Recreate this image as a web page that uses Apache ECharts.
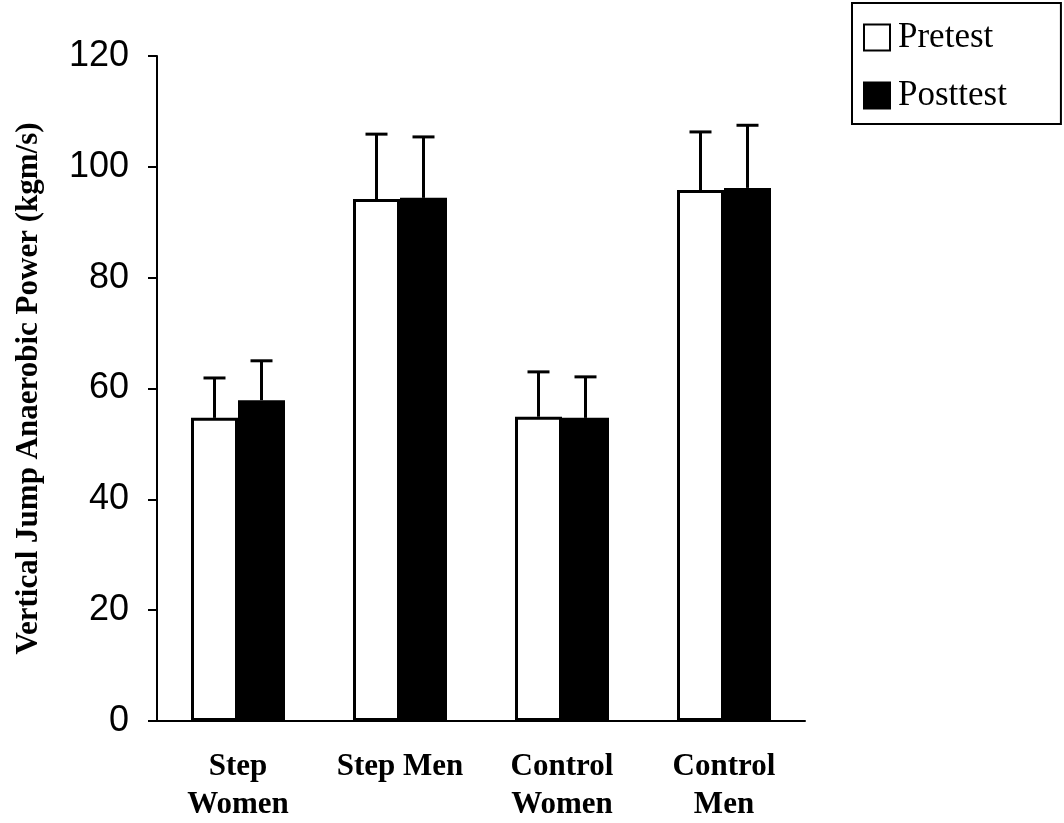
<!DOCTYPE html>
<html>
<head>
<meta charset="utf-8">
<script src="https://cdn.jsdelivr.net/npm/echarts@6/dist/echarts.min.js"></script>
<style>
  html, body { margin: 0; padding: 0; background: #fff; }
  #chart { width: 1064px; height: 823px; }
</style>
</head>
<body>
<div id="chart"></div>
<script>
// groups on the x axis
const groups = ['Step\nWomen', 'Step Men', 'Control\nWomen', 'Control\nMen'];
// means, kgm/s
const pretestMean = [54.7, 94.2, 54.9, 95.8];
const posttestMean = [57.9, 94.4, 54.7, 96.2];
// SD (upper error bar only)
const pretestSD = [7.2, 11.7, 8.1, 10.5];
const posttestSD = [7.1, 11.0, 7.4, 11.3];
const yTicks = { min: 0, max: 120, step: 20 };

const BAR_W = 47;

function errorBars(means, sds, side) {
  return {
    type: 'custom',
    silent: true,
    z: 5,
    data: means.map((m, i) => [i, m, m + sds[i]]),
    renderItem: function (params, api) {
      const low = api.coord([api.value(0), api.value(1)]);
      const high = api.coord([api.value(0), api.value(2)]);
      const x = low[0] + side * BAR_W / 2;
      const style = { stroke: '#000', lineWidth: 3 };
      return {
        type: 'group',
        children: [
          { type: 'line', shape: { x1: x, y1: low[1], x2: x, y2: high[1] }, style: style },
          { type: 'line', shape: { x1: x - 11, y1: high[1], x2: x + 11, y2: high[1] }, style: style }
        ]
      };
    }
  };
}

const myChart = echarts.init(document.getElementById('chart'));
const option = {
  backgroundColor: '#fff',
  animation: false,
  grid: { left: 157, right: 259, top: 56, bottom: 102, outerBoundsMode: 'none' },
  legend: {
    orient: 'vertical',
    left: 852,
    top: 3,
    padding: [17, 54, 11, 11],
    borderColor: '#000',
    borderWidth: 2,
    icon: 'rect',
    itemWidth: 26,
    itemHeight: 26,
    itemGap: 23,
    textStyle: { fontFamily: 'Liberation Serif', fontSize: 35, color: '#000', padding: [0, 0, 0, 3] },
    data: ['Pretest', 'Posttest']
  },
  xAxis: {
    type: 'category',
    data: groups,
    axisLine: { lineStyle: { color: '#000', width: 2 } },
    axisTick: { show: false },
    axisLabel: {
      interval: 0,
      margin: 27,
      color: '#000',
      fontFamily: 'Liberation Serif',
      fontWeight: 'bold',
      fontSize: 31,
      lineHeight: 38
    }
  },
  yAxis: {
    type: 'value',
    min: yTicks.min,
    max: yTicks.max,
    interval: yTicks.step,
    name: 'Vertical Jump Anaerobic Power (kgm/s)',
    nameLocation: 'middle',
    nameGap: 113,
    nameTextStyle: { fontFamily: 'Liberation Serif', fontWeight: 'bold', fontSize: 31, color: '#000' },
    splitLine: { show: false },
    axisLine: { show: true, lineStyle: { color: '#000', width: 2 } },
    axisTick: { show: true, length: 9, lineStyle: { color: '#000', width: 2 } },
    axisLabel: { margin: 28, color: '#000', fontFamily: 'Liberation Sans', fontSize: 36 }
  },
  series: [
    {
      name: 'Pretest',
      type: 'bar',
      data: pretestMean,
      barWidth: BAR_W,
      barGap: '0%',
      itemStyle: { color: '#fff', borderColor: '#000', borderWidth: 3 }
    },
    {
      name: 'Posttest',
      type: 'bar',
      data: posttestMean,
      barWidth: BAR_W,
      itemStyle: { color: '#000', borderColor: '#000', borderWidth: 3 }
    },
    errorBars(pretestMean, pretestSD, -1),
    errorBars(posttestMean, posttestSD, 1)
  ]
};
myChart.setOption(option);
</script>
</body>
</html>
